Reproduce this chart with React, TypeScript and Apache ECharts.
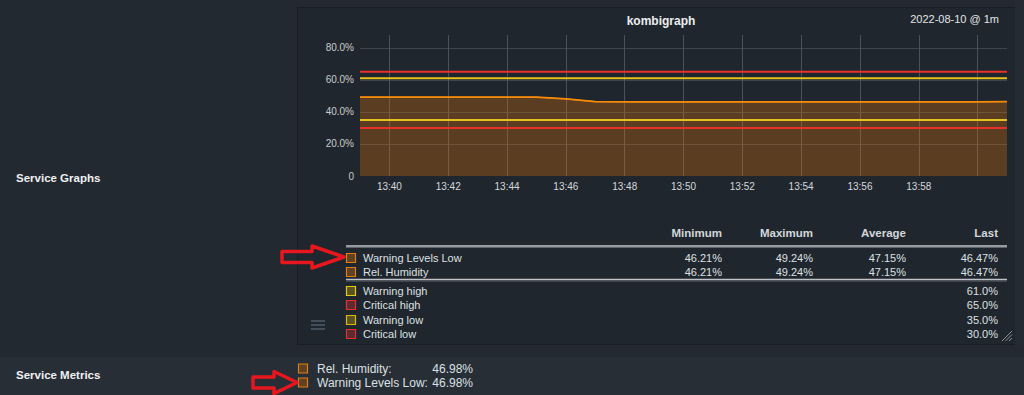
import React, { useEffect, useRef } from 'react';
import * as echarts from 'echarts';

// ---- data ----
const times = [
  '13:39', '13:40', '13:41', '13:42', '13:43', '13:44', '13:45', '13:46', '13:47', '13:48', '13:49', '13:50',
  '13:51', '13:52', '13:53', '13:54', '13:55', '13:56', '13:57', '13:58', '13:59', '14:00', '14:01',
];
const gridTimes = ['13:40', '13:42', '13:44', '13:46', '13:48', '13:50', '13:52', '13:54', '13:56', '13:58', '14:00'];
const labelTimes = ['13:40', '13:42', '13:44', '13:46', '13:48', '13:50', '13:52', '13:54', '13:56', '13:58'];

const relHumidity = [
  49.24, 49.24, 49.24, 49.24, 49.24, 49.24, 49.2, 48.1, 46.4, 46.3, 46.21, 46.21,
  46.25, 46.25, 46.25, 46.25, 46.25, 46.25, 46.25, 46.25, 46.25, 46.3, 46.47,
];
const warningLevelsLow = [
  49.24, 49.24, 49.24, 49.24, 49.24, 49.24, 49.2, 48.1, 46.4, 46.3, 46.21, 46.21,
  46.25, 46.25, 46.25, 46.25, 46.25, 46.25, 46.25, 46.25, 46.25, 46.3, 46.47,
];
const warningHigh = 61;
const criticalHigh = 65;
const warningLow = 35;
const criticalLow = 30;

const statHeaders = ['Minimum', 'Maximum', 'Average', 'Last'];
const statNames = ['Warning Levels Low', 'Rel. Humidity'];
const statValues = [
  ['46.21%', '49.24%', '47.15%', '46.47%'],
  ['46.21%', '49.24%', '47.15%', '46.47%'],
];
const thresholdNames = ['Warning high', 'Critical high', 'Warning low', 'Critical low'];
const thresholdLast = ['61.0%', '65.0%', '35.0%', '30.0%'];
const metricNames = ['Rel. Humidity:', 'Warning Levels Low:'];
const metricValues = ['46.98%', '46.98%'];

// ---- styles ----
const FONT = '"Liberation Sans", Arial, Helvetica, sans-serif';
const ORANGE = '#f58a0a';
const ORANGE_FILL = 'rgba(238,122,12,0.29)';
const YELLOW = '#e3c11e';
const RED = '#e5332c';
const TEXT = '#dde0e3';
const ARROW = '#e6171e';

const statCols = [722, 813, 906, 998];
const statRowY = [258, 272];
const thrRowY = [291, 305, 320, 334];
const statSwatch = [
  { fill: '#5e4226', stroke: '#e27d12' },
  { fill: '#5e4226', stroke: '#e27d12' },
];
const thrSwatch = [
  { fill: '#5b5422', stroke: '#e6cc10' },
  { fill: '#5a2b31', stroke: '#e5302c' },
  { fill: '#5b5422', stroke: '#d9b80a' },
  { fill: '#5a2b31', stroke: '#e5302c' },
];

function txt(text: string, x: number, y: number, opts: any = {}) {
  return {
    type: 'text',
    x,
    y,
    silent: true,
    style: {
      text,
      fill: opts.fill || TEXT,
      font: `${opts.weight || 'normal'} ${opts.size || 11}px ${FONT}`,
      textAlign: opts.align || 'left',
      textVerticalAlign: 'middle',
      textBaseline: 'middle',
    },
  };
}

function swatch(x: number, cy: number, fill: string, stroke: string) {
  return {
    type: 'rect',
    silent: true,
    shape: { x: x + 0.5, y: cy - 4.5, width: 9, height: 9 },
    style: { fill, stroke, lineWidth: 1.2 },
  };
}

function hline(x1: number, x2: number, y: number, stroke: string, w = 1) {
  return { type: 'line', silent: true, shape: { x1, y1: y, x2, y2: y }, style: { stroke, lineWidth: w } };
}

function buildGraphics() {
  const g: any[] = [];
  // outer page areas (around the graph panel)
  const outer = '#232930';
  g.push({ type: 'rect', silent: true, shape: { x: 0, y: 0, width: 297, height: 395 }, style: { fill: outer } });
  g.push({ type: 'rect', silent: true, shape: { x: 297, y: 0, width: 727, height: 7 }, style: { fill: outer } });
  g.push({ type: 'rect', silent: true, shape: { x: 1015, y: 0, width: 9, height: 395 }, style: { fill: '#252b33' } });
  g.push({ type: 'rect', silent: true, shape: { x: 297, y: 345, width: 727, height: 50 }, style: { fill: outer } });
  g.push({ type: 'rect', silent: true, shape: { x: 0, y: 357, width: 1024, height: 38 }, style: { fill: '#282e36' } });
  // panel border
  g.push({ type: 'line', silent: true, shape: { x1: 297.5, y1: 7, x2: 297.5, y2: 345 }, style: { stroke: '#1a1e24', lineWidth: 1 } });
  g.push(hline(297, 1015, 7.5, '#1a1e24'));
  g.push(hline(297, 1015, 344.5, '#1a1e24'));

  // section labels
  g.push(txt('Service Graphs', 16, 178, { weight: 'bold', size: 11.5, fill: '#eef0f2' }));
  g.push(txt('Service Metrics', 16, 375, { weight: 'bold', size: 11.5, fill: '#eef0f2' }));

  // date
  g.push(txt('2022-08-10 @ 1m', 999, 19, { align: 'right', size: 11, fill: '#e2e5e8' }));

  // legend table headers
  statHeaders.forEach((h, i) => g.push(txt(h, statCols[i], 233, { align: 'right', weight: 'bold', size: 11.5, fill: '#d3d7db' })));
  g.push(hline(346, 1007, 246, '#bfc3c7', 1.5));
  g.push(hline(346, 1007, 247.5, '#5c636b', 1));
  statNames.forEach((n, r) => {
    g.push(swatch(346, statRowY[r], statSwatch[r].fill, statSwatch[r].stroke));
    g.push(txt(n, 363, statRowY[r]));
    statValues[r].forEach((v, c) => g.push(txt(v, statCols[c], statRowY[r], { align: 'right' })));
  });
  g.push(hline(346, 1007, 279.5, '#bfc3c7', 1.5));
  g.push(hline(346, 1007, 281, '#5c636b', 1));
  thresholdNames.forEach((n, r) => {
    g.push(swatch(346, thrRowY[r], thrSwatch[r].fill, thrSwatch[r].stroke));
    g.push(txt(n, 363, thrRowY[r]));
    g.push(txt(thresholdLast[r], statCols[3], thrRowY[r], { align: 'right' }));
  });

  // hamburger icon
  [321, 325, 329].forEach((y) => g.push(hline(311, 325, y, '#4d5a67', 1.6)));
  // resize grip
  [[1002, 341, 1012, 331], [1005.5, 341, 1012, 334.5], [1009, 341, 1012, 338]].forEach(([x1, y1, x2, y2]) =>
    g.push({ type: 'line', silent: true, shape: { x1, y1, x2, y2 }, style: { stroke: '#8c939b', lineWidth: 1 } })
  );

  // service metrics
  metricNames.forEach((n, r) => {
    const cy = [368.5, 382.5][r];
    g.push(swatch(298, cy, statSwatch[0].fill, statSwatch[0].stroke));
    g.push(txt(n, 317, cy, { size: 12 }));
    g.push(txt(metricValues[r], 473, cy, { align: 'right', size: 12 }));
  });

  // red arrows
  g.push({
    type: 'polygon',
    silent: true,
    shape: { points: [[282, 251.5], [312, 251.5], [312, 246], [344, 257], [312, 268], [312, 262.5], [282, 262.5]] },
    style: { fill: 'none', stroke: ARROW, lineWidth: 3.5, lineJoin: 'round' },
  });
  g.push({
    type: 'polygon',
    silent: true,
    shape: { points: [[253, 377], [274, 377], [274, 371.5], [297, 382.5], [274, 393.5], [274, 388], [253, 388]] },
    style: { fill: 'none', stroke: ARROW, lineWidth: 3.5, lineJoin: 'round' },
  });
  return g;
}

export default function App() {
  const ref = useRef<HTMLDivElement>(null);
  useEffect(() => {
    const chart = echarts.init(ref.current!, null, { renderer: 'svg' });
    const thr = (name: string, value: number, color: string) => ({
      name,
      type: 'line',
      data: times.map(() => value),
      symbol: 'none',
      silent: true,
      z: 4,
      lineStyle: { color, width: 2 },
    });
    const option: any = {
      animation: false,
      backgroundColor: '#20262d',
      title: {
        text: 'kombigraph',
        left: 656,
        top: 10,
        textAlign: 'center',
        textStyle: { color: '#eceef0', fontSize: 12, fontWeight: 'bold', fontFamily: FONT },
      },
      grid: { left: 360, right: 17, top: 35, bottom: 219 },
      xAxis: {
        type: 'category',
        data: times,
        boundaryGap: false,
        axisLine: { show: false },
        axisTick: { show: false },
        axisLabel: {
          interval: (_i: number, v: string) => labelTimes.includes(v),
          color: '#d4d8dc',
          fontSize: 10,
          fontFamily: FONT,
          margin: 5,
        },
        splitLine: {
          show: true,
          interval: (_i: number, v: string) => gridTimes.includes(v),
          lineStyle: { color: '#4a525b', width: 1 },
        },
      },
      yAxis: {
        type: 'value',
        min: 0,
        max: 88,
        interval: 20,
        axisLine: { show: false },
        axisTick: { show: false },
        axisLabel: {
          showMaxLabel: false,
          formatter: (v: number) => (v === 0 ? '0' : v.toFixed(1) + '%'),
          color: '#c8ccd0',
          fontSize: 10,
          fontFamily: FONT,
          margin: 6,
        },
        splitLine: { show: true, showMaxLine: false, showMinLine: false, lineStyle: { color: '#3c4651', width: 1 } },
      },
      graphic: { elements: buildGraphics() },
      series: [
        {
          name: 'Warning Levels Low',
          type: 'line',
          data: warningLevelsLow,
          symbol: 'none',
          silent: true,
          z: 2,
          lineStyle: { color: ORANGE, width: 1 },
          areaStyle: { color: ORANGE_FILL, opacity: 1 },
        },
        thr('Warning low', warningLow, YELLOW),
        thr('Critical low', criticalLow, RED),
        thr('Warning high', warningHigh, YELLOW),
        thr('Critical high', criticalHigh, RED),
        {
          name: 'Rel. Humidity',
          type: 'line',
          data: relHumidity,
          symbol: 'none',
          silent: true,
          z: 5,
          lineStyle: { color: ORANGE, width: 1.8 },
        },
      ],
    };
    chart.setOption(option);
    return () => chart.dispose();
  }, []);
  return <div ref={ref} style={{ position: 'fixed', left: 0, top: 0, width: 1024, height: 395 }} />;
}
